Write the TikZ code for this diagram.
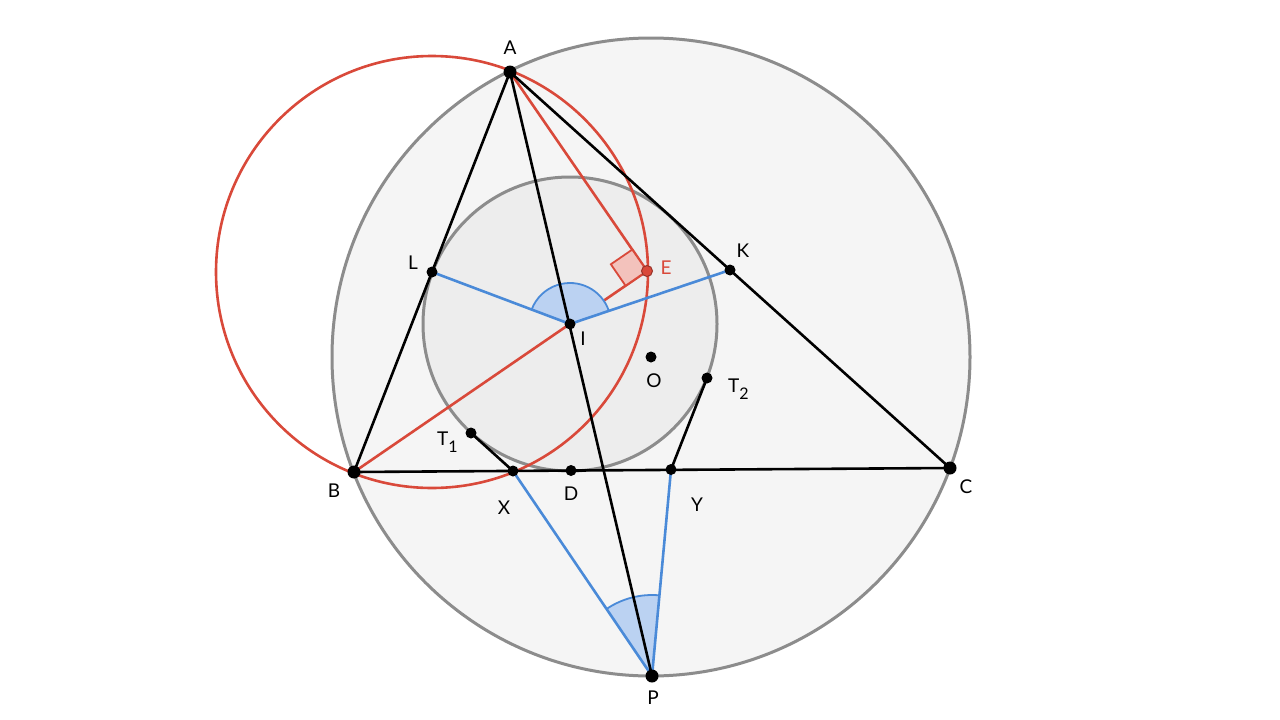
\documentclass[tikz,border=0pt]{standalone}
\usepackage{fontspec}
\setmainfont{Lato}
\usetikzlibrary{calc}
\definecolor{rd}{HTML}{D9493A}
\definecolor{bl}{HTML}{4A8AD8}
\definecolor{blf}{HTML}{BBD2F2}
\definecolor{rdf}{HTML}{F3C2BC}
\definecolor{gl}{HTML}{8C8C8C}
\tikzset{
  blk/.style={line width=2.6pt,black},
  blu/.style={line width=2.6pt,bl},
  red/.style={line width=2.6pt,rd},
  circ/.style={line width=3pt,gl},
  dotbig/.style={circle,fill=black,inner sep=0pt,minimum size=13pt},
  dotsm/.style={circle,fill=black,inner sep=0pt,minimum size=11pt},
  lbl/.style={font=\fontsize{19}{19}\selectfont,inner sep=0pt}
}
\newcommand{\subidx}[1]{\raisebox{-7pt}{\fontsize{16}{16}\selectfont #1}}
\begin{document}
\begin{tikzpicture}[x=1pt,y=1pt]
\useasboundingbox (0,0) rectangle (1280,-720);
\fill[white] (0,0) rectangle (1280,-720);
% points
\coordinate (A) at (510,-72);
\coordinate (B) at (354,-472);
\coordinate (C) at (950,-468);
\coordinate (P) at (652,-676);
\coordinate (O) at (651,-357);
\coordinate (I) at (570,-324);
\coordinate (L) at (432,-272);
\coordinate (K) at (730,-270);
\coordinate (E) at (647,-271);
\coordinate (D) at (571,-470.5);
\coordinate (X) at (513,-471);
\coordinate (Y) at (671,-469.5);
\coordinate (T1) at (471,-433);
\coordinate (T2) at (707,-378);
% circles
\fill[black!4] (O) circle (319);
\fill[black!7] (I) circle (147);
\draw[circ] (O) circle (319);
\draw[circ] (I) circle (147);
\draw[red] (L) circle (216);
% red lines
\draw[red] (B) -- (E);
\draw[red] (A) -- (E);
% right angle mark
\draw[line width=1.8pt,rd,fill=rdf]
  ($(E)!26pt!(B)$) -- ($(E)!26pt!(B)!26pt!90:(E)$) -- ($(E)!26pt!(A)$) -- (E) -- cycle;
% angle at I
\fill[blf] (I) -- ++(18.3:41) arc (18.3:159.4:41) -- cycle;
\draw[bl,line width=1.8pt] (I) ++(18.3:41) arc (18.3:159.4:41);
% angle at P
\fill[blf] (P) -- ++(84.7:81) arc (84.7:124.1:81) -- cycle;
\draw[bl,line width=1.8pt] (P) ++(84.7:81) arc (84.7:124.1:81);
% blue lines
\draw[blu] (L) -- (I) -- (K);
\draw[blu] (X) -- (P) -- (Y);
% black lines
\draw[blk,line join=round] (A) -- (B) -- (C) -- cycle;
\draw[blk] (A) -- (P);
\draw[blk] (T1) -- (X);
\draw[blk] (T2) -- (Y);
% dots
\node[dotbig] (nA) at (A) {};
\node[dotbig] (nB) at (B) {};
\node[dotbig] (nC) at (C) {};
\node[dotbig] (nP) at (P) {};
\node[dotsm] (nO) at (O) {};
\node[dotsm] (nI) at (I) {};
\node[dotsm] (nL) at (L) {};
\node[dotsm] (nK) at (K) {};
\node[dotsm] (nD) at (D) {};
\node[dotsm] (nX) at (X) {};
\node[dotsm] (nY) at (Y) {};
\node[dotsm] (nT1) at (T1) {};
\node[dotsm] (nT2) at (T2) {};
\node[circle,fill=rd,draw=rd!70!black,line width=1pt,inner sep=0pt,minimum size=11pt] (nE) at (E) {};
% labels
\node[lbl] (lA) at (510,-48) {A};
\node[lbl] (lB) at (334,-491) {B};
\node[lbl] (lC) at (966,-487) {C};
\node[lbl] (lP) at (653,-698) {P};
\node[lbl] (lO) at (654,-381) {O};
\node[lbl] (lI) at (583,-339) {I};
\node[lbl] (lL) at (413,-263) {L};
\node[lbl] (lK) at (743,-251) {K};
\node[lbl,text=rd] (lE) at (666,-268) {E};
\node[lbl] (lD) at (571,-494) {D};
\node[lbl] (lX) at (504,-508) {X};
\node[lbl] (lY) at (697,-505) {Y};
\node[lbl,anchor=base west] (lT1) at (437,-445) {T\subidx{1}};
\node[lbl,anchor=base west] (lT2) at (728,-392) {T\subidx{2}};
\end{tikzpicture}
\end{document}
